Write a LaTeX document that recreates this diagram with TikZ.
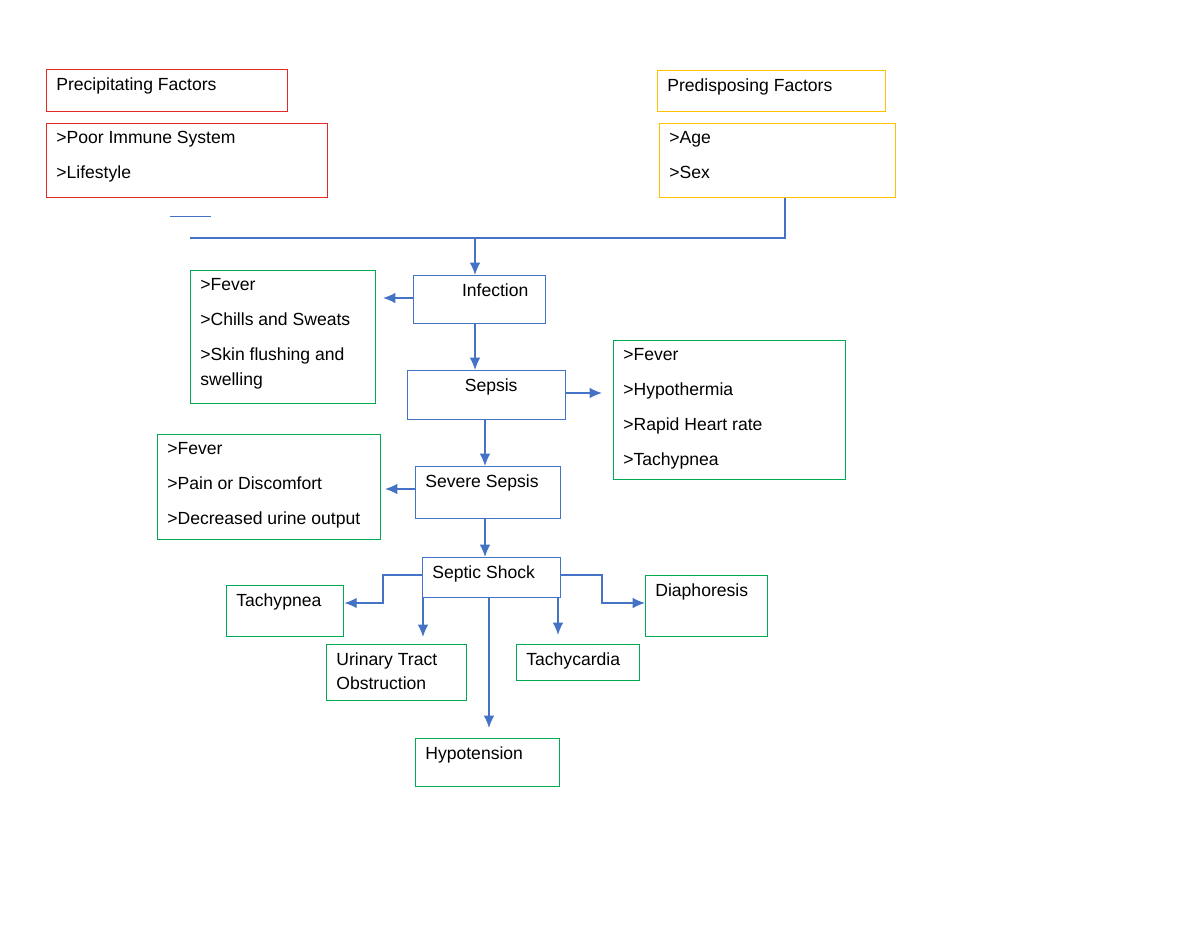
\documentclass[tikz,border=0pt]{standalone}
\usepackage{fontspec}
\setmainfont{Liberation Sans}
\usetikzlibrary{arrows.meta}
\definecolor{flowblue}{RGB}{68,114,196}
\definecolor{boxred}{RGB}{230,40,40}
\definecolor{boxgreen}{RGB}{0,170,80}
\definecolor{boxyellow}{RGB}{255,192,0}
\tikzset{
  >={Latex[length=7pt,width=6pt]},
  every node/.style={font=\fontsize{10}{20}\selectfont},
  flow/.style={flowblue,thick,->},
  txt/.style={anchor=north west,align=left,inner sep=0pt},
}
% box: name, x, y, w, h, colour, text
\newcommand{\bx}[7]{%
  \node[draw=#6,thick,anchor=north west,minimum width=#4*0.02cm,
        minimum height=#5*0.02cm,inner sep=0pt] (#1) at (#2,#3) {};
  \node[txt] (#1t) at ([xshift=10*0.02cm,yshift=-8*0.02cm]#1.north west) {#7};}

\begin{document}
\begin{tikzpicture}[x=0.02cm,y=-0.02cm]
  \useasboundingbox (0,0) rectangle (1200,927);
  % factors
  \bx{prec}{46}{69}{241}{42}{boxred}{Precipitating Factors}
  \bx{precl}{46}{123}{281}{74}{boxred}{>Poor Immune System\\>Lifestyle}
  \bx{pred}{657}{70}{228}{41}{boxyellow}{Predisposing Factors}
  \bx{predl}{659}{123}{236}{74}{boxyellow}{>Age\\>Sex}
  \draw[flowblue] (170,216) -- (211,216);
  \coordinate (jl) at (190,238);
  \coordinate (jr) at (785,238);
  \coordinate (jm) at (475,238);
  \draw[flowblue,thick] (predl.south -| jr) -- (jr) -- (jl);
  % main chain
  \bx{inf}{413}{275}{132}{48}{flowblue}{\hspace{22pt}Infection}
  \bx{sym1}{190}{270}{185}{133}{boxgreen}{>Fever\\>Chills and Sweats\\>Skin flushing and\\[-6pt]swelling}
  \bx{sep}{407}{370}{158}{49}{flowblue}{\hspace{27pt}Sepsis}
  \bx{sym2}{613}{340}{232}{139}{boxgreen}{>Fever\\>Hypothermia\\>Rapid Heart rate\\>Tachypnea}
  \bx{sev}{415}{466}{145}{52}{flowblue}{Severe Sepsis}
  \bx{sym3}{157}{434}{223}{105}{boxgreen}{>Fever\\>Pain or Discomfort\\>Decreased urine output}
  \bx{shock}{422}{557}{138}{40}{flowblue}{Septic Shock}
  % complications
  \bx{tach}{226}{585}{117}{51}{boxgreen}{Tachypnea}
  \bx{uti}{326}{644}{140}{56}{boxgreen}{Urinary Tract\\[-6pt]Obstruction}
  \bx{hypo}{415}{738}{144}{48}{boxgreen}{Hypotension}
  \bx{card}{516}{644}{123}{36}{boxgreen}{Tachycardia}
  \bx{diap}{645}{575}{122}{61}{boxgreen}{Diaphoresis}
  % arrows
  \draw[flow] (jm) -- (inf.north -| jm);
  \draw[flow] (inf.west |- 0,298) -- (383,298);
  \draw[flow] (inf.south -| 475,0) -- (sep.north -| 475,0);
  \draw[flow] (sep.east |- 0,393) -- (602,393);
  \draw[flow] (sep.south -| 485,0) -- (sev.north -| 485,0);
  \draw[flow] (sev.west |- 0,489) -- (385,489);
  \draw[flow] (sev.south -| 485,0) -- (shock.north -| 485,0);
  \draw[flow] (shock.west |- 0,575) -| (383,603) -- (tach.east |- 0,603);
  \draw[flow] (shock.south -| 423,0) -- (423,637);
  \draw[flow] (shock.south -| 489,0) -- (489,728);
  \draw[flow] (shock.south -| 558,0) -- (558,635);
  \draw[flow] (shock.east |- 0,575) -| (602,603) -- (diap.west |- 0,603);
\end{tikzpicture}
\end{document}
